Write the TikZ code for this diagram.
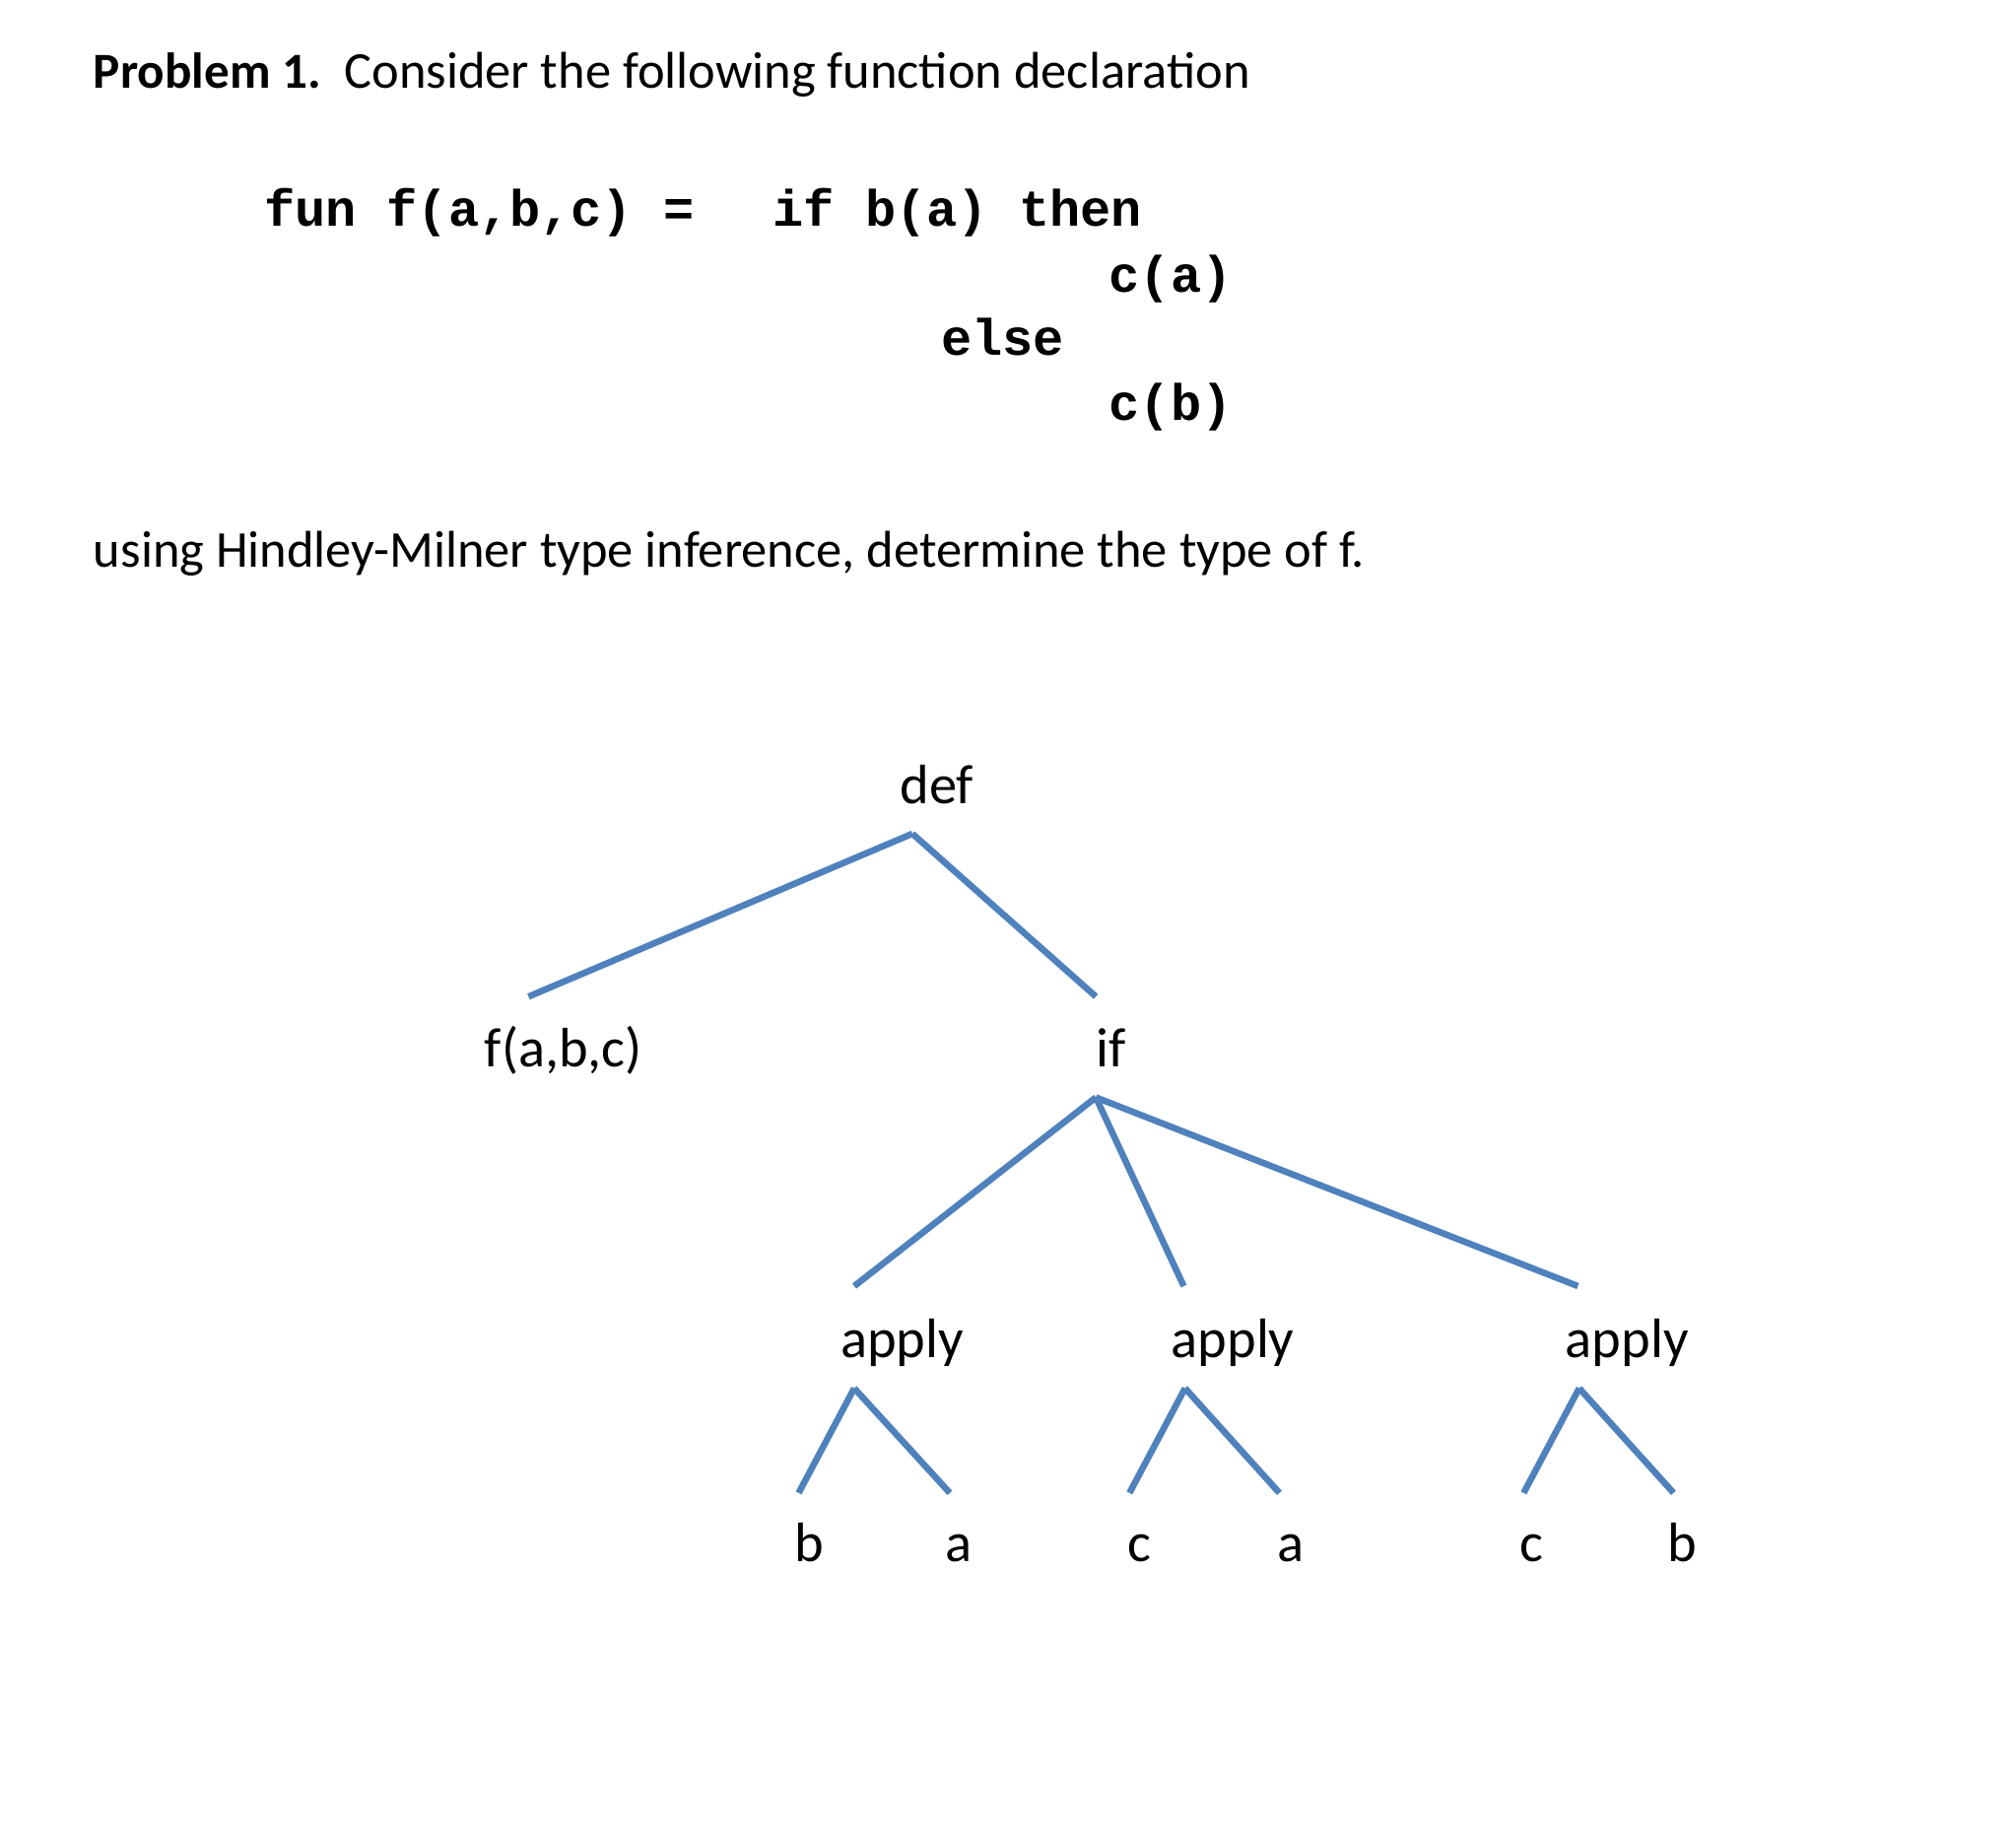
\documentclass[tikz,border=0pt]{standalone}
\usepackage{fontspec}
\setmainfont{Carlito}
\newfontfamily\codefont{Liberation Mono}
\tikzset{
  txt/.style={anchor=base west, inner sep=0pt, font=\fontsize{20}{24}\selectfont},
  code/.style={anchor=base west, inner sep=0pt, font=\codefont\bfseries\fontsize{19.8}{24}\selectfont},
  lbl/.style={anchor=base, inner sep=0pt, font=\fontsize{21.5}{26}\selectfont},
  edge/.style={line width=2.5pt, color={rgb,255:red,79;green,129;blue,189}}
}
\begin{document}
\begin{tikzpicture}[x=0.5pt,y=-0.5pt]
\useasboundingbox (0,0) rectangle (1560,1424);
% header text
\node[txt] (title) at (72,68) {{\fontsize{19.5}{24}\selectfont\textbf{Problem 1.}}\ \ Consider the following function declaration};
\node[code] (c1) at (204,175) {fun f(a,b,c) =};
\node[code] (c2) at (598,175) {if b(a) then};
\node[code] (c3) at (858,226) {c(a)};
\node[code] (c4) at (728,275) {else};
\node[code] (c5) at (858,325) {c(b)};
\node[txt] (q) at (72,439) {using Hindley-Milner type inference, determine the type of f.};
% tree labels
\node[lbl] (def) at (725,622) {def};
\node[lbl] (fabc) at (436,825) {f(a,b,c)};
\node[lbl] (if) at (860,825) {if};
\node[lbl] (ap1) at (698,1050) {apply};
\node[lbl] (ap2) at (954,1050) {apply};
\node[lbl] (ap3) at (1259,1050) {apply};
\node[lbl] (l1) at (626,1208) {b};
\node[lbl] (l2) at (742,1208) {a};
\node[lbl] (l3) at (882,1208) {c};
\node[lbl] (l4) at (999,1208) {a};
\node[lbl] (l5) at (1185,1208) {c};
\node[lbl] (l6) at (1302,1208) {b};
% connector end points
\coordinate (defB) at (706,645);
\coordinate (fabcT) at (409,771);
\coordinate (ifT) at (848,771);
\coordinate (ifB) at (848,849);
\coordinate (ap1T) at (661,995);
\coordinate (ap2T) at (916,995);
\coordinate (ap3T) at (1221,995);
\coordinate (ap1B) at (661,1074);
\coordinate (ap2B) at (917,1074);
\coordinate (ap3B) at (1222,1074);
\coordinate (l1T) at (618,1155);
\coordinate (l2T) at (735,1155);
\coordinate (l3T) at (874,1155);
\coordinate (l4T) at (990,1155);
\coordinate (l5T) at (1179,1155);
\coordinate (l6T) at (1295,1155);
% connectors
\draw[edge] (defB) -- (fabcT);
\draw[edge] (defB) -- (ifT);
\draw[edge] (ifB) -- (ap1T);
\draw[edge] (ifB) -- (ap2T);
\draw[edge] (ifB) -- (ap3T);
\draw[edge] (ap1B) -- (l1T);
\draw[edge] (ap1B) -- (l2T);
\draw[edge] (ap2B) -- (l3T);
\draw[edge] (ap2B) -- (l4T);
\draw[edge] (ap3B) -- (l5T);
\draw[edge] (ap3B) -- (l6T);
\end{tikzpicture}
\end{document}
